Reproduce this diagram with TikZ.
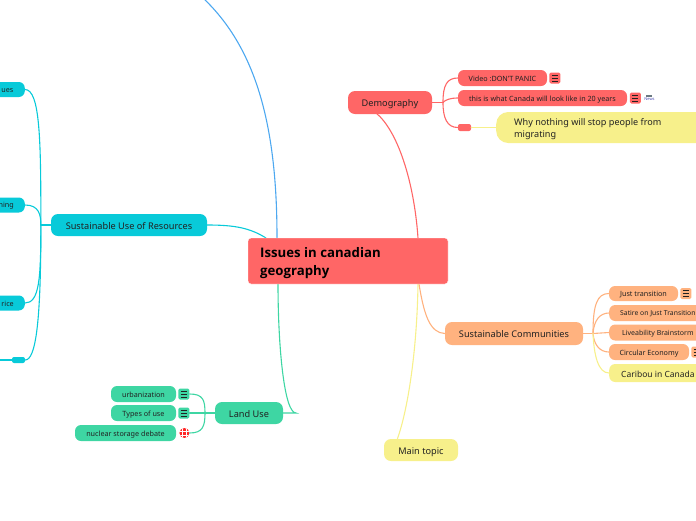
\documentclass[tikz,border=0pt]{standalone}
\usepackage{fontspec}
\setmainfont{Noto Sans}
\newfontfamily\rootfont{Open Sans}[Scale=1.0]
\usetikzlibrary{positioning}
\definecolor{redmap}{HTML}{FF6666}
\definecolor{bluemap}{HTML}{4DA8F0}
\definecolor{cyanmap}{HTML}{08CAD9}
\definecolor{greenmap}{HTML}{3ED6A3}
\definecolor{orangemap}{HTML}{FFB27F}
\definecolor{yellowmap}{HTML}{F7F08B}
\definecolor{inkmap}{HTML}{222222}
\tikzset{
    topic/.style={rectangle, rounded corners=7pt, inner sep=0pt, text=inkmap, text height=9.6pt, text depth=1.6pt, font=\fontsize{9.2}{11}\selectfont},
    subtopic/.style={rectangle, rounded corners=6pt, inner sep=0pt, text=inkmap, text height=7.6pt, text depth=1pt, font=\fontsize{7.2}{8}\selectfont},
    stub/.style={rectangle, rounded corners=2pt, inner sep=0pt},
    noteicon/.style={rectangle, rounded corners=1.5pt, inner sep=0pt, minimum width=11pt, minimum height=11pt,
        path picture={
            \draw[inkmap, line width=.9pt] ([xshift=-3pt,yshift=3pt]path picture bounding box.center) -- ++(6pt,0);
            \draw[inkmap, line width=.9pt] ([xshift=-3pt]path picture bounding box.center) -- ++(6pt,0);
            \draw[inkmap, line width=.9pt] ([xshift=-3pt,yshift=-3pt]path picture bounding box.center) -- ++(6pt,0);
        }},
    link/.style={line width=1.1pt, line cap=round},
}
\begin{document}
\begin{tikzpicture}[x=1pt, y=-1pt]
    \useasboundingbox (0,0) rectangle (696,520);

    % central topic and where the branches leave it
    \coordinate (rootBlue) at (277,238);
    \coordinate (rootCyan) at (266,238);
    \coordinate (rootRed) at (418,238);
    \coordinate (rootGreen) at (278,284);
    \coordinate (rootOrange) at (419,284);
    \coordinate (rootYellow) at (418,284);
    \coordinate (blueEnd) at (203,-2);

    % branches
    \draw[link, bluemap] (rootBlue) .. controls (277,130) and (258,50) .. (blueEnd);
    \node[topic, fill=redmap, minimum width=84pt, minimum height=23pt] (demography) at (390,102.5) {Demography};
    \node[topic, fill=orangemap, minimum width=138pt, minimum height=23pt] (communities) at (514,333.5) {Sustainable Communities};
    \node[topic, fill=yellowmap, minimum width=74pt, minimum height=22pt] (maintopic) at (421,450) {Main topic};
    \node[topic, fill=greenmap, minimum width=68pt, minimum height=22pt] (landuse) at (249,413) {Land Use};
    \node[topic, fill=cyanmap, minimum width=156pt, minimum height=22pt] (resources) at (129,225) {Sustainable Use of Resources};
    \coordinate (demoFoot) at (376,113);
    \coordinate (mainHead) at (397,440);

    \draw[link, redmap] (rootRed) .. controls (414,180) and (397,130) .. (demoFoot);
    \draw[link, cyanmap] (rootCyan) .. controls (250,228) and (235,225) .. (resources.east);
    \draw[link, greenmap] (rootGreen) .. controls (278,345) and (284,413) .. (296,413) -- (landuse.east);
    \draw[link, orangemap] (rootOrange) .. controls (424,315) and (430,333) .. (communities.west);
    \draw[link, yellowmap] (rootYellow) .. controls (417,350) and (408,410) .. (mainHead);

    % Demography
    \node[subtopic, fill=redmap, minimum width=89pt, minimum height=16pt] (video) at (502.5,78) {Video :DON'T PANIC};
    \node[noteicon, fill=redmap, right=2pt of video] (videonote) {};
    \node[subtopic, fill=redmap, minimum width=169pt, minimum height=16pt] (canada) at (542.5,98) {this is what Canada will look like in 20 years};
    \node[noteicon, fill=redmap, right=2.5pt of canada] (canadanote) {};
    \node[inner sep=0pt, text=blue!40!gray, font=\fontsize{4}{4}\selectfont, right=3pt of canadanote, yshift=-1.5pt] (news) {News};
    \node[inner sep=0pt, fill=cyanmap!60!red, minimum width=6pt, minimum height=1.5pt, above=.8pt of news] (newsmark) {};
    \node[stub, fill=redmap, minimum width=13pt, minimum height=7pt] (demostub) at (464.5,127.5) {};
    \node[rectangle, rounded corners=12pt, fill=yellowmap, anchor=west, minimum width=240pt, minimum height=31pt, inner sep=0pt] (whybox) at (496,127.5) {};
    \node[anchor=north west, inner sep=0pt, text=inkmap, align=left, font=\fontsize{9.1}{12}\selectfont] (whynothing) at (514,118) {Why nothing will stop people from\\migrating};

    \draw[link, redmap] (demography.east) -- (443,102.5);
    \draw[link, redmap] (443,102.5) .. controls (443,85) and (447,78) .. (video.west);
    \draw[link, redmap] (443,102.5) .. controls (445,100) and (450,98) .. (canada.west);
    \draw[link, redmap] (443,102.5) .. controls (443,118) and (447,127.5) .. (demostub.west);
    \draw[link, yellowmap] (demostub.east) -- (whybox.west);

    % Sustainable Communities
    \node[subtopic, fill=orangemap, minimum width=69pt, minimum height=15pt] (justtransition) at (643.5,293.5) {Just transition};
    \node[noteicon, fill=orangemap, right=2pt of justtransition] (justnote) {};
    \node[subtopic, fill=orangemap, anchor=west, minimum width=130pt, minimum height=16pt] (satire) at (609,313) {};
    \node[anchor=west, inner sep=0pt, text=inkmap, font=\fontsize{6.8}{8}\selectfont] (satirelabel) at (620,314) {Satire on Just Transition};
    \node[subtopic, fill=orangemap, anchor=west, minimum width=130pt, minimum height=16pt] (liveability) at (609,332.5) {};
    \node[anchor=west, inner sep=0pt, text=inkmap, font=\fontsize{7}{8}\selectfont] (liveabilitylabel) at (622,333.5) {Liveability Brainstorm};
    \node[subtopic, fill=orangemap, minimum width=80pt, minimum height=16pt] (circular) at (649,352) {Circular Economy};
    \node[noteicon, fill=orangemap, right=2pt of circular] (circularnote) {};
    \node[subtopic, fill=yellowmap, anchor=west, minimum width=120pt, minimum height=18pt] (caribou) at (609,373) {};
    \node[anchor=west, inner sep=0pt, text=inkmap, font=\fontsize{8.5}{10}\selectfont] (cariboulabel) at (621,374) {Caribou in Canada};

    \draw[link, orangemap] (communities.east) -- (593,333.5);
    \draw[link, orangemap] (593,333.5) .. controls (593,305) and (597,293.5) .. (justtransition.west);
    \draw[link, orangemap] (593,333.5) .. controls (594,320) and (600,313) .. (satire.west);
    \draw[link, orangemap] (593,333.5) -- (liveability.west);
    \draw[link, orangemap] (593,333.5) .. controls (594,345) and (600,352) .. (circular.west);
    \draw[link, yellowmap] (593,333.5) .. controls (594,355) and (598,373) .. (caribou.west);

    % Land Use
    \node[subtopic, fill=greenmap, minimum width=65pt, minimum height=16pt] (urbanization) at (143.5,394) {urbanization};
    \node[noteicon, fill=greenmap, right=2pt of urbanization] (urbannote) {};
    \node[subtopic, fill=greenmap, minimum width=65pt, minimum height=16pt] (typesofuse) at (143.5,413) {Types of use};
    \node[noteicon, fill=greenmap, right=2pt of typesofuse] (typesnote) {};
    \node[subtopic, fill=greenmap, minimum width=101pt, minimum height=16pt] (nuclear) at (125.5,433) {nuclear storage debate};
    \node[circle, fill=red!80!pink, minimum size=10pt, inner sep=0pt, right=3pt of nuclear,
        path picture={
            \draw[white, line width=.4pt] ([xshift=-2pt,yshift=-6pt]path picture bounding box.center) -- ++(0,12pt);
            \draw[white, line width=.4pt] ([xshift=2pt,yshift=-6pt]path picture bounding box.center) -- ++(0,12pt);
            \draw[white, line width=.4pt] ([xshift=-6pt,yshift=-2pt]path picture bounding box.center) -- ++(12pt,0);
            \draw[white, line width=.4pt] ([xshift=-6pt,yshift=2pt]path picture bounding box.center) -- ++(12pt,0);
        }] (nuclearicon) {};

    \draw[link, greenmap] (landuse.west) -- (205,413);
    \draw[link, greenmap] (205,413) .. controls (205,400) and (203,394) .. (urbannote.east);
    \draw[link, greenmap] (205,413) -- (typesnote.east);
    \draw[link, greenmap] (205,413) .. controls (205,426) and (203,433) .. (nuclearicon.east);

    % Sustainable Use of Resources
    \node[subtopic, fill=cyanmap, anchor=east, minimum width=60pt, minimum height=15pt] (issues) at (25,89.5) {};
    \node[anchor=east, inner sep=0pt, text=inkmap, font=\fontsize{7.2}{8}\selectfont] (issueslabel) at (13.5,90.5) {ues};
    \node[subtopic, fill=cyanmap, anchor=east, minimum width=60pt, minimum height=15pt] (planning) at (25,205) {};
    \node[anchor=east, inner sep=0pt, text=inkmap, font=\fontsize{7.2}{8}\selectfont] (planninglabel) at (14,206) {ning};
    \node[subtopic, fill=cyanmap, anchor=east, minimum width=60pt, minimum height=15pt] (service) at (25,303) {};
    \node[anchor=east, inner sep=0pt, text=inkmap, font=\fontsize{7.2}{8}\selectfont] (servicelabel) at (14,304) {rice};
    \node[stub, fill=cyanmap, minimum width=13pt, minimum height=6pt] (resstub) at (18.5,360) {};
    \coordinate[left=10pt of resources.west] (resfork);
    \coordinate (resfree) at (0,360);

    \draw[link, cyanmap] (resources.west) -- (resfork);
    \draw[link, cyanmap] (resfork) .. controls (41,140) and (40,89.5) .. (issues.east);
    \draw[link, cyanmap] (resfork) .. controls (41,215) and (39,205) .. (planning.east);
    \draw[link, cyanmap] (resfork) .. controls (41,280) and (39,303) .. (service.east);
    \draw[link, cyanmap] (resfork) .. controls (41,320) and (36,360) .. (resstub.east);
    \draw[link, cyanmap] (resstub.west) -- (resfree);

    % central topic goes over the branch ends
    \node[rectangle, rounded corners=3pt, fill=redmap, draw=white, minimum width=200pt, minimum height=46pt, inner sep=0pt] (root) at (348,261) {};
    \node[anchor=north west, inner sep=0pt, text=black, align=left, font=\rootfont\fontsize{13.2}{18}\bfseries\selectfont] (rootlabel) at (260,247) {Issues in canadian\\geography};
\end{tikzpicture}
\end{document}
